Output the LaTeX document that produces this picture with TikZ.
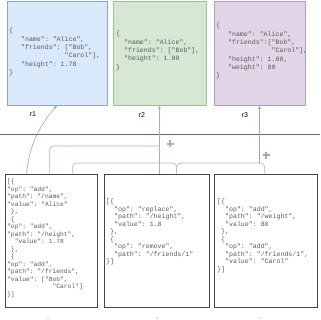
\documentclass[tikz,border=0pt]{standalone}
\usepackage{fontspec}
\setmainfont{Liberation Sans}
\setmonofont{Liberation Mono}
\usetikzlibrary{arrows.meta,calc}
\definecolor{bluef}{HTML}{DAE8FC}
\definecolor{blued}{HTML}{8DA6CC}
\definecolor{greenf}{HTML}{D5E8D4}
\definecolor{greend}{HTML}{9CC08E}
\definecolor{purpf}{HTML}{E1D5E7}
\definecolor{purpd}{HTML}{B29CC4}
\definecolor{txt}{HTML}{5A5A5A}
\definecolor{boxd}{HTML}{444444}
\definecolor{conn}{HTML}{B4B4B4}
\tikzset{
  statebox/.style={line width=0.8pt, inner sep=0pt, minimum height=104pt},
  patchbox/.style={draw=boxd, fill=white, line width=0.8pt, inner sep=0pt, minimum height=133pt},
  codebig/.style={font=\ttfamily\fontsize{6.6}{8.3}\selectfont, text=txt, align=left, anchor=north west, inner sep=0pt},
  codesmall/.style={font=\ttfamily\fontsize{6.3}{7.5}\selectfont, text=txt, align=left, anchor=north west, inner sep=0pt},
  codemid/.style={font=\ttfamily\fontsize{6.6}{7.5}\selectfont, text=txt, align=left, anchor=north west, inner sep=0pt},
  lbl/.style={font=\fontsize{7}{8}\selectfont, text=black, inner sep=0pt},
  link/.style={line width=0.6pt},
  tip/.style={-{Stealth[length=4pt,width=3pt]}},
  plus/.style={line width=1.6pt}
}
\begin{document}
\begin{tikzpicture}[x=1pt,y=-1pt]
\useasboundingbox (0,0) rectangle (320,320);
% state boxes
\node[statebox, draw=blued, fill=bluef, minimum width=100pt] (r1) at (57,53) {};
\node[statebox, draw=greend, fill=greenf, minimum width=93pt] (r2) at (159.5,53) {};
\node[statebox, draw=purpd, fill=purpf, minimum width=91pt] (r3) at (259.5,53) {};
\node[codebig] (t1) at (9,28) {\{\\
~~~"name": "Alice",\\
~~~"friends": ["Bob",\\
~~~~~~~~~~~~~~"Carol"],\\
~~~"height": 1.78\\
\}};
\node[codebig] (t2) at (116,31) {\{\\
~~"name": "Alice",\\
~~"friends": ["Bob"],\\
~~"height": 1.80\\
\}};
\node[codebig] (t3) at (216,23) {\{\\
~~~"name": "Alice",\\
~~~"friends":["Bob",\\
~~~~~~~~~~~~~~"Carol"],\\
~~~"height": 1.80,\\
~~~"weight": 80\\
\}};
\node[lbl] (l1) at (33,114) {r1};
\node[lbl] (l2) at (142,115) {r2};
\node[lbl] (l3) at (245,115) {r3};
% separator
\coordinate (sl) at (0,134);
\coordinate (sr) at (320,134);
\draw[boxd!80, line width=0.8pt] (sl) -- (sr);
% patch boxes
\node[patchbox, minimum width=92pt] (b1) at (51,240.5) {};
\node[patchbox, minimum width=105pt] (b2) at (156.5,240.5) {};
\node[patchbox, minimum width=103pt] (b3) at (265.5,240.5) {};
\node[codesmall] (p1) at (7,179) {[\{\\
"op": "add",\\
"path": "/name",\\
"value": "Alice"\\
~\},\\
~\{\\
"op": "add",\\
"path": "/height",\\
~~"value": 1.78\\
~\},\\
~\{\\
"op": "add",\\
"path": "/friends",\\
"value": ["Bob",\\
~~~~~~~~~~~~"Carol"]\\
\}]};
\node[codemid] (p2) at (106,199) {[\{\\
~~"op": "replace",\\
~~"path": "/height",\\
~~"value": 1.8\\
~\},\\
~\{\\
~~"op": "remove",\\
~~"path": "/friends/1"\\
\}]};
\node[codemid] (p3) at (217,199) {[\{\\
~~"op": "add",\\
~~"path": "/weight",\\
~~"value": 80\\
~\},\\
~\{\\
~~"op": "add",\\
~~"path": "/friends/1",\\
~~"value": "Carol"\\
\}]};
% connector anchor points
\coordinate (b1a) at ([xshift=22pt]b1.north west);
\coordinate (b1b) at ([xshift=45pt]b1.north west);
\coordinate (b1c) at ([xshift=68pt]b1.north west);
\coordinate (b2a) at (r2.south |- b2.north);
\coordinate (b2c) at ([xshift=73pt]b2.north west);
\coordinate (b3c) at ([xshift=51pt]b3.north west);
\coordinate (gj) at (159.5,146);
\coordinate (hA) at (120,163);
\coordinate (hB) at (220,163);
\coordinate (pj) at (r3.south |- hA);
% r1
\draw[link, tip, blued] (b1a) .. controls (29,145) and (40,125) .. (r1.south);
% r2 (merge)
\draw[link, tip, greend] (b2a) -- (r2.south);
\draw[link, greend, rounded corners=4pt] (b1b) |- (gj);
% r3 (merge)
\draw[link, conn, rounded corners=4pt] (b1c) |- (hA) -| (b2c);
\draw[link, conn, rounded corners=4pt] (b2c) |- (hB) -| (b3c);
\draw[link, tip, purpd] (pj) -- (r3.south);
% plus marks
\coordinate (gp) at (170,144);
\coordinate (pp) at (266,155);
\draw[plus, greend] ([xshift=-3.5pt]gp) -- ([xshift=3.5pt]gp);
\draw[plus, greend] ([yshift=-3.5pt]gp) -- ([yshift=3.5pt]gp);
\draw[plus, purpd] ([xshift=-3.5pt]pp) -- ([xshift=3.5pt]pp);
\draw[plus, purpd] ([yshift=-3.5pt]pp) -- ([yshift=3.5pt]pp);
% faint marks below
\fill[black!20] (48,318) circle (0.8);
\fill[black!20] (157,318) circle (0.8);
\fill[black!20] (260,318) circle (0.8);
\end{tikzpicture}
\end{document}
